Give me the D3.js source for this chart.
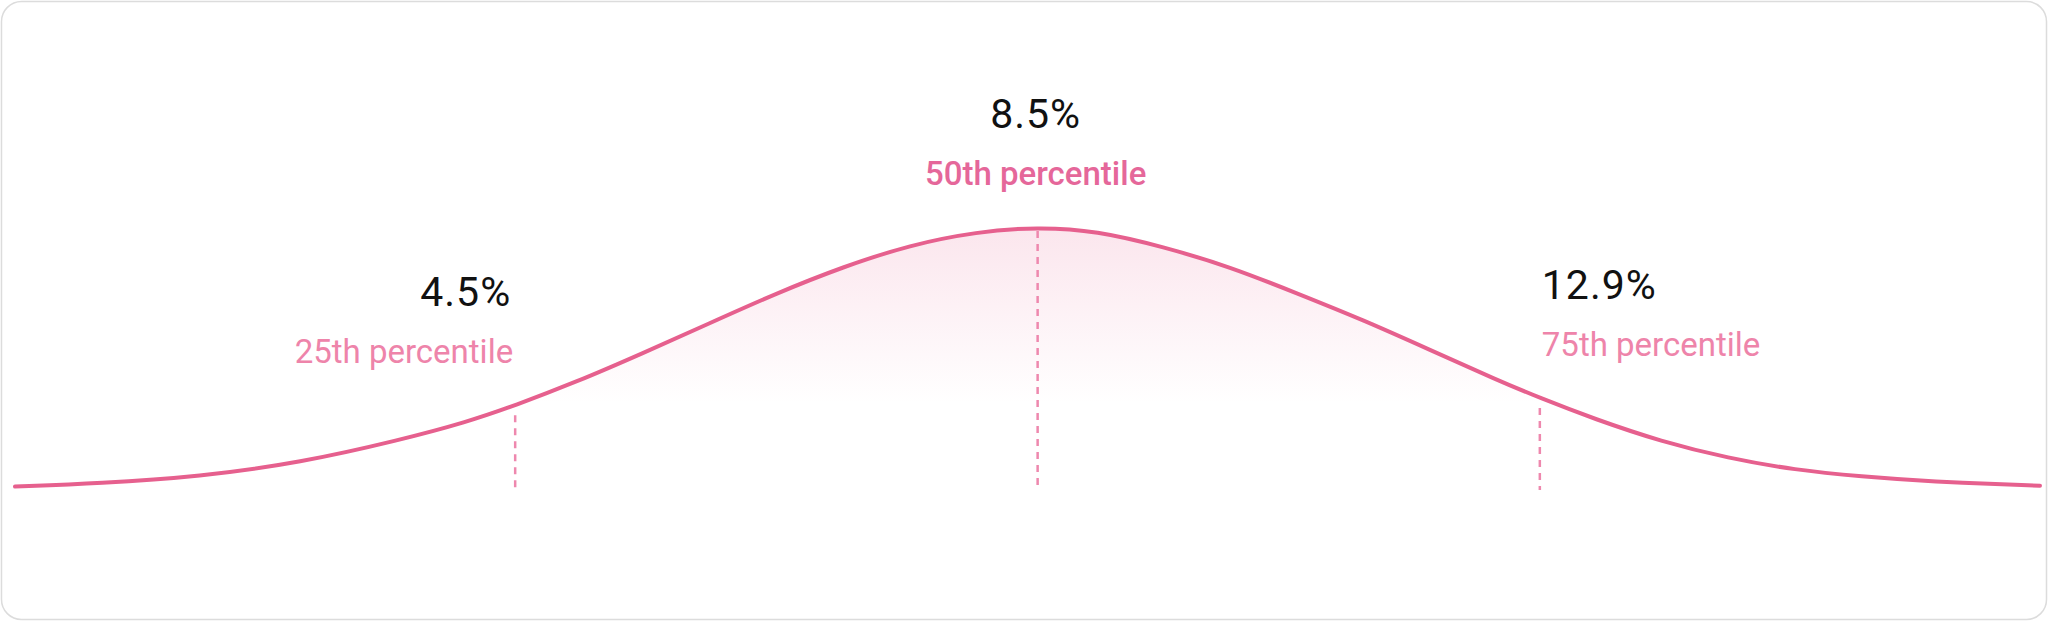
<!DOCTYPE html>
<html>
<head>
<meta charset="utf-8">
<script src="https://cdn.jsdelivr.net/npm/d3@7"></script>
<style>
  html, body { margin: 0; padding: 0; background: #fff; }
  svg { display: block; }
</style>
</head>
<body>
<svg id="chart"></svg>
<script>
// position across the card (0-100) and relative height of the bell curve
const curvePos = [0, 4.2, 9.1, 14.1, 19.0, 22.3, 24.7, 27.7, 31.0, 34.3, 37.6, 40.9, 44.2, 47.5, 50.5,
                  53.4, 56.7, 60.0, 63.3, 66.6, 69.9, 73.2, 75.3, 78.0, 81.3, 84.6, 87.9, 91.2, 94.5, 100];
const curveDensity = [0.013, 0.025, 0.051, 0.104, 0.190, 0.258, 0.322, 0.410, 0.520, 0.634, 0.748, 0.849, 0.932, 0.982, 1.0,
                      0.986, 0.925, 0.849, 0.748, 0.646, 0.532, 0.418, 0.350, 0.270, 0.184, 0.121, 0.076, 0.051, 0.032, 0.016];

// percentile markers
const markerPos = [24.7, 50.5, 75.3];
const markerDensity = [0.322, 1.0, 0.350];
const markerValues = ["4.5%", "8.5%", "12.9%"];
const markerLabels = ["25th percentile", "50th percentile", "75th percentile"];

const width = 2048, height = 621;
const svg = d3.select("#chart").attr("width", width).attr("height", height);

// card
svg.append("rect")
  .attr("x", 1.5).attr("y", 1.5)
  .attr("width", width - 3).attr("height", height - 3)
  .attr("rx", 20)
  .attr("fill", "#fff")
  .attr("stroke", "#dcdcdc")
  .attr("stroke-width", 1.5);

const x = d3.scaleLinear().domain([0, 100]).range([15, 2040]);
const y = d3.scaleLinear().domain([0, 1]).range([490, 227]);

const points = curvePos.map(function(p, i) { return [p, curveDensity[i]]; });

// soft pink fill under the curve
const defs = svg.append("defs");
const grad = defs.append("linearGradient")
  .attr("id", "fade")
  .attr("gradientUnits", "userSpaceOnUse")
  .attr("x1", 0).attr("x2", 0)
  .attr("y1", y(1)).attr("y2", y(0.33));
grad.append("stop").attr("offset", "0%").attr("stop-color", "#e8608f").attr("stop-opacity", 0.16);
grad.append("stop").attr("offset", "100%").attr("stop-color", "#e8608f").attr("stop-opacity", 0);

const area = d3.area()
  .x(function(d) { return x(d[0]); })
  .y0(y(0))
  .y1(function(d) { return y(d[1]); })
  .curve(d3.curveBasis);

svg.append("path")
  .datum(points)
  .attr("d", area)
  .attr("fill", "url(#fade)");

// dashed percentile lines
svg.selectAll("line.marker")
  .data(markerPos)
  .enter()
  .append("line")
  .attr("class", "marker")
  .attr("x1", function(d) { return x(d); })
  .attr("x2", function(d) { return x(d); })
  .attr("y1", function(d, i) { return y(markerDensity[i]) + (i == 1 ? 4 : 10); })
  .attr("y2", y(0))
  .attr("stroke", "#ee88ae")
  .attr("stroke-width", 2.5)
  .attr("stroke-dasharray", "7 6");

const line = d3.line()
  .x(function(d) { return x(d[0]); })
  .y(function(d) { return y(d[1]); })
  .curve(d3.curveBasis);

svg.append("path")
  .datum(points)
  .attr("d", line)
  .attr("fill", "none")
  .attr("stroke", "#e6608e")
  .attr("stroke-width", 4)
  .attr("stroke-linecap", "round");

// labels
const anchors = ["end", "middle", "start"];
const nudge = [-4, -2, 2];

svg.selectAll("text.value")
  .data(markerValues)
  .enter()
  .append("text")
  .attr("class", "value")
  .attr("x", function(d, i) { return x(markerPos[i]) + nudge[i]; })
  .attr("y", function(d, i) { return y(markerDensity[i]) - 99; })
  .attr("text-anchor", function(d, i) { return anchors[i]; })
  .attr("font-family", "Roboto, 'Noto Sans', sans-serif")
  .attr("font-size", 41)
  .attr("letter-spacing", 1)
  .attr("fill", "#111")
  .text(function(d) { return d; });

svg.selectAll("text.label")
  .data(markerLabels)
  .enter()
  .append("text")
  .attr("class", "label")
  .attr("x", function(d, i) { return x(markerPos[i]) + nudge[i] + (i == 0 ? 2 : 0); })
  .attr("y", function(d, i) { return y(markerDensity[i]) - 42; })
  .attr("text-anchor", function(d, i) { return anchors[i]; })
  .attr("font-family", "Roboto, 'Noto Sans', sans-serif")
  .attr("font-size", 33)
  .attr("font-weight", function(d, i) { return i == 1 ? 500 : 400; })
  .attr("fill", function(d, i) { return i == 1 ? "#e5679a" : "#ee84aa"; })
  .text(function(d) { return d; });
</script>
</body>
</html>
